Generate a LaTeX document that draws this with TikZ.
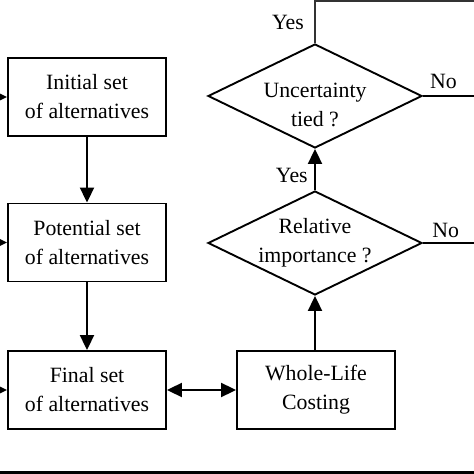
\documentclass[tikz,border=0pt]{standalone}
\usepackage{fontspec}
\setmainfont{Liberation Serif}
\usetikzlibrary{arrows.meta,shapes.geometric}

\tikzset{
  setbox/.style={draw,line width=1.9pt,minimum width=158pt,minimum height=78pt,
    inner sep=0pt,align=center},
  decision/.style={draw,diamond,line width=1.9pt,shape aspect=2.06,inner sep=0pt,
    minimum width=214pt,minimum height=104pt,align=center},
  flow/.style={line width=2pt,-{Triangle[length=15pt,width=14pt]}},
  link/.style={line width=2pt}
}

\begin{document}
\begin{tikzpicture}[x=1pt,y=1pt,font=\fontsize{21.8}{29}\selectfont]
    \useasboundingbox (0,0) rectangle (474,474);
    \clip (0,0) rectangle (474,474);

    % Left column: sets of alternatives
    \node[setbox] (initial) at (87,377) {Initial set\\of alternatives};
    \node[setbox] (potential) at (87,231.5) {Potential set\\of alternatives};
    \node[setbox] (final) at (87,84) {Final set\\of alternatives};

    % Right column
    \node[setbox] (wlc) at (316,84) {Whole-Life\\Costing};
    \node[decision] (relative) at (315,231) {Relative\\importance ?};
    \node[decision] (uncertain) at (315,378) {};
    \node[align=center] (uncertainText) at ([yshift=-9pt]uncertain.center) {Uncertainty\\tied ?};

    % Feeds coming in from the left
    \coordinate (inA) at (-30,377);
    \coordinate (inB) at (-30,231.5);
    \coordinate (inC) at (-30,84);
    \draw[flow] (inA) -- (initial.west);
    \draw[flow] (inB) -- (potential.west);
    \draw[flow] (inC) -- (final.west);

    % Down the left column
    \draw[flow] (initial) -- (potential);
    \draw[flow] (potential) -- (final);
    \draw[line width=2pt,{Triangle[length=15pt,width=14pt]}-{Triangle[length=15pt,width=14pt]}] (final) -- (wlc);

    % Up the right column
    \draw[flow] (wlc.north -| relative.south) -- (relative.south);
    \draw[flow] (relative.north) -- (uncertain.south)
      node[pos=0.35,left=3pt] {Yes};

    % Exits to the right
    \coordinate (outNo1) at (480,378);
    \coordinate (outNo2) at (480,231);
    \draw[link] (relative.east) -- (outNo2) node[pos=0.4,above=1pt] {No};
    \draw[link] (uncertain.east) -- (outNo1) node[pos=0.36,above=3pt] {No};
    \coordinate (topTurn) at (315,473);
    \coordinate (topOut) at (480,473);
    \draw[link,line width=1.8pt,black!80] (uncertain.north) -- (topTurn) -- (topOut);
    \node (topYes) at (288,452) {Yes};

    % Rule along the bottom
    \coordinate (ruleL) at (0,1.5);
    \coordinate (ruleR) at (474,1.5);
    \draw[line width=3pt] (ruleL) -- (ruleR);
\end{tikzpicture}
\end{document}
